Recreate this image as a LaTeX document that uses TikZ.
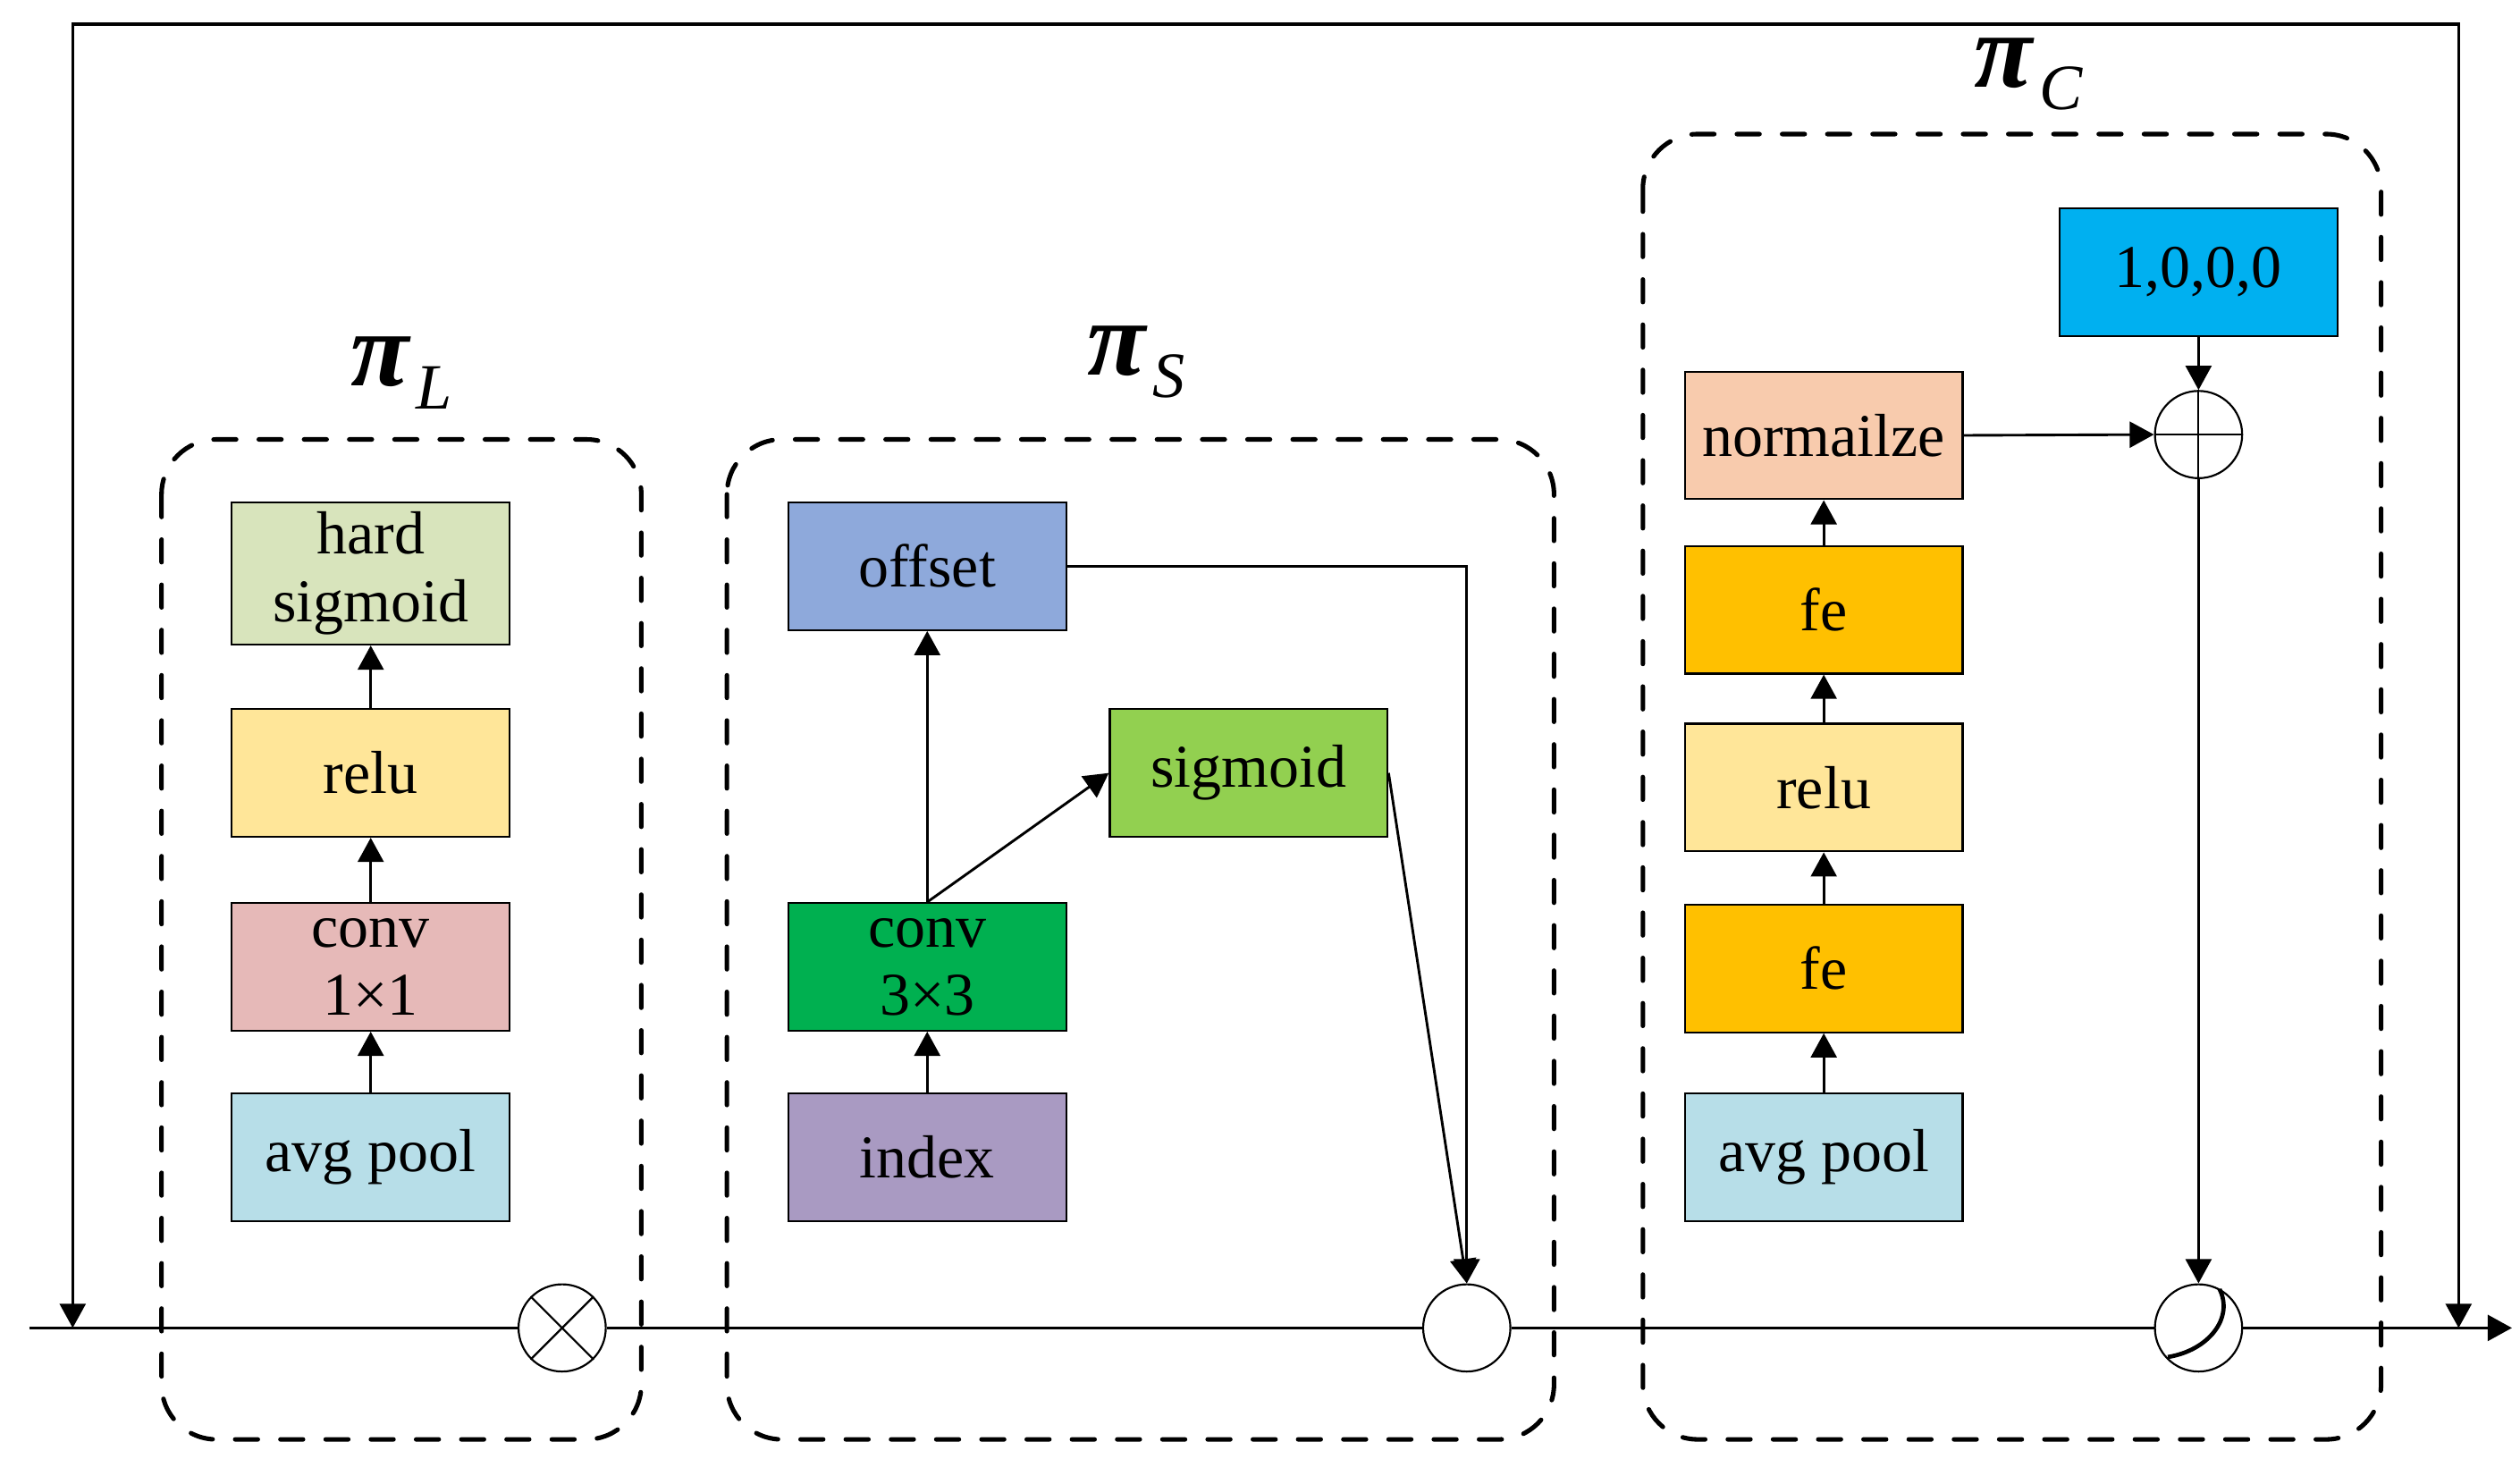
\documentclass[tikz,border=0pt]{standalone}
\usepackage{fontspec}
\setmainfont{Liberation Serif}
\usetikzlibrary{arrows.meta}
\definecolor{cHard}{HTML}{D8E4BC}
\definecolor{cRelu}{HTML}{FFE699}
\definecolor{cConvA}{HTML}{E6B9B8}
\definecolor{cAvg}{HTML}{B7DEE8}
\definecolor{cOffset}{HTML}{8EA9DB}
\definecolor{cSig}{HTML}{92D050}
\definecolor{cConvB}{HTML}{00B050}
\definecolor{cIndex}{HTML}{A99AC2}
\definecolor{cNorm}{HTML}{F8CBAD}
\definecolor{cFe}{HTML}{FFC000}
\definecolor{cOne}{HTML}{00B0F0}
\newcommand{\pilabel}[1]{{\fontsize{33}{33}\selectfont\bfseries\itshape π}\hspace{2pt}\raisebox{-7pt}{\fontsize{20}{20}\selectfont\itshape #1}}
\begin{document}
\begin{tikzpicture}[x=0.5pt,y=-0.5pt,
 blk/.style={draw=black,line width=0.6pt,minimum width=86pt,minimum height=39.5pt,inner sep=0pt,align=center,font=\fontsize{18.8}{21}\selectfont},
 arr/.style={line width=0.8pt,-{Triangle[length=7.5pt,width=8pt]}},
 mainln/.style={line width=0.9pt},
 grp/.style={draw,line width=1.4pt,dash pattern=on 7pt off 7pt,line cap=round,rounded corners=17pt},
 op/.style={circle,draw,line width=0.6pt,minimum size=27pt,inner sep=0pt,fill=white},
 lab/.style={inner sep=0pt,anchor=base west}]
\useasboundingbox (0,0) rectangle (1560,902.6);

% groups
\draw[grp] (100,272) rectangle (397,891);
\draw[grp] (450,272) rectangle (962,891);
\draw[grp] (1017,83) rectangle (1474,891);

\node[lab] (piL) at (217,239) {\pilabel{L}};
\node[lab] (piS) at (673,232) {\pilabel{S}};
\node[lab] (piC) at (1222,54) {\pilabel{C}};

% feedback and main line
\coordinate (start) at (18,822);
\coordinate (finish) at (1555,822);
\coordinate (fbL) at (45,822);
\coordinate (fbR) at (1522,822);
\coordinate (tl) at (45,15);
\coordinate (tr) at (1522,15);
\draw[mainln,{Triangle[length=7.5pt,width=8pt]}-{Triangle[length=7.5pt,width=8pt]}] (fbL) -- (tl) -- (tr) -- (fbR);

\node[op] (mul) at (348,822) {};
\node[op] (c2) at (908,822) {};
\node[op] (c3) at (1361,822) {};
\node[op] (plus) at (1361,269) {};

\draw[line width=0.6pt] (mul.north west) -- (mul.south east) (mul.north east) -- (mul.south west);
\draw[line width=0.6pt] (plus.north) -- (plus.south) (plus.west) -- (plus.east);
\draw[line width=1.3pt] ([shift={(13,-24)}]c3.center) .. controls ([shift={(22,-6)}]c3.center) and ([shift={(6,14)}]c3.center) .. ([shift={(-19,18)}]c3.center);

\draw[mainln] (start) -- (mul.west);
\draw[mainln] (mul.east) -- (c2.west);
\draw[mainln] (c2.east) -- (c3.west);
\draw[mainln,-{Triangle[length=7.5pt,width=8pt]}] (c3.east) -- (finish);

% pi_L column
\node[blk,fill=cHard,minimum height=44pt] (hs) at (229.5,355) {hard\\sigmoid};
\node[blk,fill=cRelu] (reluA) at (229.5,478.5) {relu};
\node[blk,fill=cConvA] (convA) at (229.5,598.5) {conv\\1×1};
\node[blk,fill=cAvg] (avgA) at (229.5,716.5) {avg pool};
\draw[arr] (avgA) -- (convA);
\draw[arr] (convA) -- (reluA);
\draw[arr] (reluA) -- (hs);

% pi_S column
\node[blk,fill=cOffset] (offset) at (574,350.5) {offset};
\node[blk,fill=cSig] (sig) at (773,478.5) {sigmoid};
\node[blk,fill=cConvB] (convB) at (574,598.5) {conv\\3×3};
\node[blk,fill=cIndex] (index) at (574,716.5) {index};
\draw[arr] (index) -- (convB);
\draw[arr] (convB) -- (offset);
\draw[arr] (convB.north) -- (sig.west);
\draw[arr] (offset.east) -| (c2.north);
\draw[arr] (sig.east) -- (c2.north);

% pi_C column
\node[blk,fill=cNorm] (norm) at (1129,269.5) {normailze};
\node[blk,fill=cFe] (feB) at (1129,377.5) {fe};
\node[blk,fill=cRelu] (reluC) at (1129,487.5) {relu};
\node[blk,fill=cFe] (feA) at (1129,599.5) {fe};
\node[blk,fill=cAvg] (avgC) at (1129,716.5) {avg pool};
\node[blk,fill=cOne] (one) at (1361,168.5) {1,0,0,0};
\draw[arr] (avgC) -- (feA);
\draw[arr] (feA) -- (reluC);
\draw[arr] (reluC) -- (feB);
\draw[arr] (feB) -- (norm);
\draw[arr] (one) -- (plus.north);
\draw[arr] (norm.east) -- (plus.west);
\draw[arr] (plus.south) -- (c3.north);
\end{tikzpicture}
\end{document}
